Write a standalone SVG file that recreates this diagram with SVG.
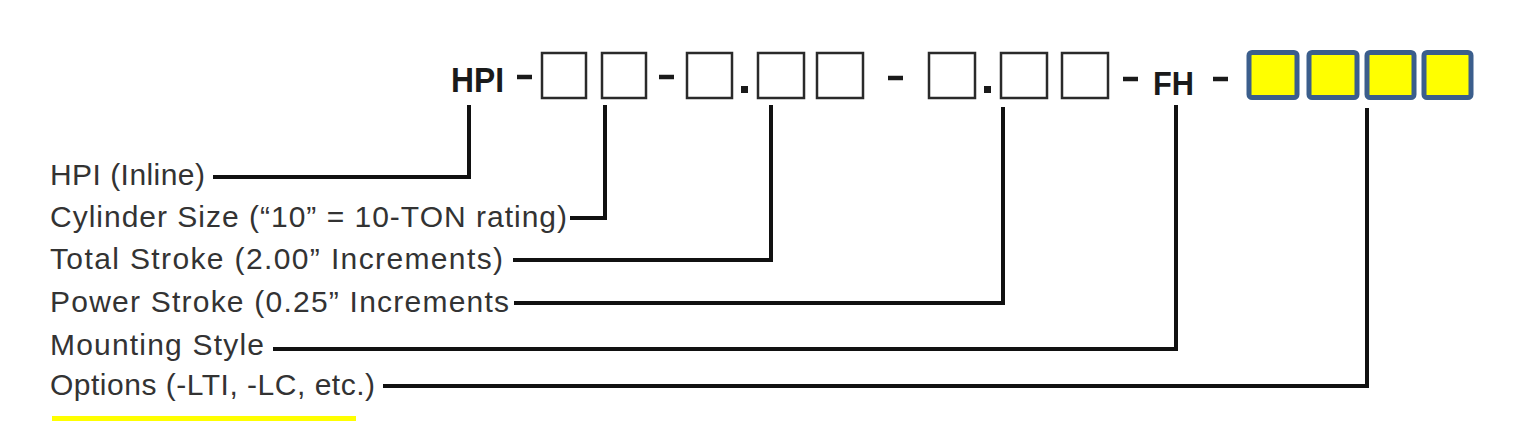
<svg xmlns="http://www.w3.org/2000/svg" width="1536" height="440" viewBox="0 0 1536 440">
<style>
.bx{fill:#fff;stroke:#2a2a2a;stroke-width:2.5}
.yb{fill:#ffff00;stroke:#3b5e8c;stroke-width:5}
.dash{stroke:#1a1a1a;stroke-width:4.5}
.dot{fill:#1a1a1a}
.code{font-family:"Liberation Sans",Arial,sans-serif;font-weight:bold;fill:#1a1a1a}
.lbl{font-family:"Liberation Sans",Arial,sans-serif;font-size:30px;fill:#333}
.con{fill:none;stroke:#111;stroke-width:4;stroke-linejoin:miter}
</style>
<rect width="1536" height="440" fill="#fff"/>
<g id="code">
<text class="code" x="451" y="92" font-size="35" textLength="53" lengthAdjust="spacingAndGlyphs">HPI</text>
<line class="dash" x1="517" y1="77" x2="532" y2="77"/>
<rect class="bx" x="542" y="53" width="44" height="45"/>
<rect class="bx" x="602" y="53" width="44" height="45"/>
<line class="dash" x1="659" y1="77" x2="674" y2="77"/>
<rect class="bx" x="687" y="53" width="45" height="45"/>
<rect class="dot" x="741" y="86" width="7" height="7"/>
<rect class="bx" x="758" y="53" width="46" height="45"/>
<rect class="bx" x="817" y="53" width="46" height="45"/>
<line class="dash" x1="888" y1="78" x2="903" y2="78"/>
<rect class="bx" x="929" y="53" width="46" height="45"/>
<rect class="dot" x="984" y="86" width="7" height="7"/>
<rect class="bx" x="1001" y="53" width="46" height="45"/>
<rect class="bx" x="1062" y="53" width="46" height="45"/>
<line class="dash" x1="1123" y1="79" x2="1138" y2="79"/>
<text class="code" x="1153" y="95" font-size="34" textLength="41" lengthAdjust="spacingAndGlyphs">FH</text>
<line class="dash" x1="1213" y1="79" x2="1228" y2="79"/>
<rect class="yb" x="1249" y="52.5" width="48" height="45" rx="3"/>
<rect class="yb" x="1309" y="52.5" width="48" height="45" rx="3"/>
<rect class="yb" x="1367" y="52.5" width="47" height="45" rx="3"/>
<rect class="yb" x="1424" y="52.5" width="47" height="45" rx="3"/>
</g>
<g id="labels">
<text class="lbl" x="50" y="185" textLength="155" lengthAdjust="spacing">HPI (Inline)</text>
<text class="lbl" x="50" y="227" textLength="517" lengthAdjust="spacing">Cylinder  Size (“10” = 10-TON rating)</text>
<text class="lbl" x="50" y="269" textLength="453" lengthAdjust="spacing">Total Stroke (2.00” Increments)</text>
<text class="lbl" x="50" y="312" textLength="459" lengthAdjust="spacing">Power Stroke (0.25” Increments</text>
<text class="lbl" x="50" y="355" textLength="214" lengthAdjust="spacing">Mounting Style</text>
<text class="lbl" x="50" y="395" textLength="325" lengthAdjust="spacing">Options (-LTI, -LC, etc.)</text>
<rect x="52" y="416" width="304" height="5" fill="#ffff00"/>
</g>
<g id="connectors">
<polyline class="con" points="213,177 469,177 469,105"/>
<polyline class="con" points="570,218 605,218 605,105"/>
<polyline class="con" points="513,260 771,260 771,105"/>
<polyline class="con" points="514,303 1003,303 1003,107"/>
<polyline class="con" points="273,349 1176,349 1176,105"/>
<polyline class="con" points="383,386 1367,386 1367,108"/>
</g>
</svg>
